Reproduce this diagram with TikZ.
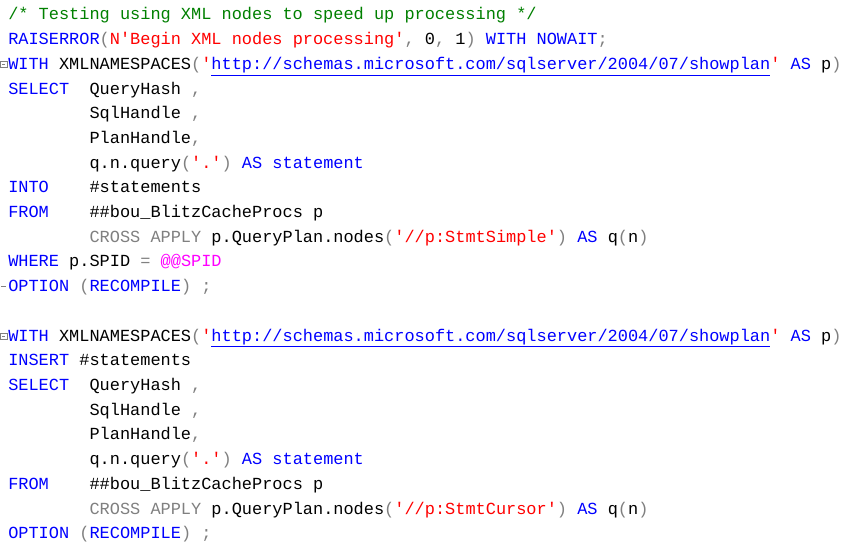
\documentclass[tikz,border=0pt]{standalone}
\usepackage{fontspec}
\newfontfamily\code{Liberation Mono}
\definecolor{kw}{RGB}{0,0,255}
\definecolor{st}{RGB}{255,0,0}
\definecolor{cm}{RGB}{0,128,0}
\definecolor{gy}{RGB}{128,128,128}
\definecolor{mg}{RGB}{255,0,255}
\newcommand\K[1]{\textcolor{kw}{#1}}
\newcommand\R[1]{\textcolor{st}{#1}}
\newcommand\G[1]{\textcolor{gy}{#1}}
\newcommand\U[1]{\textcolor{kw}{\underline{#1}}}
\begin{document}
\begin{tikzpicture}[x=0.75pt,y=-0.75pt,
  ln/.style={anchor=base west,inner sep=0pt,font=\code\fontsize{12.7pt}{14pt}\selectfont},
  fold/.style={draw=gy,line width=0.4pt,minimum size=5pt,inner sep=0pt}]
\useasboundingbox (0,0) rectangle (867,545);
\fill[white] (0,0) rectangle (867,545);
\def\L#1#2{\node[ln] (l#1) at (8,{20+24.7*(#1-1)}) {#2};}
\L{1}{\textcolor{cm}{/*~Testing~using~XML~nodes~to~speed~up~processing~*/}}
\L{2}{\K{RAISERROR}\G{(}\R{N'Begin~XML~nodes~processing'}\G{,}~0\G{,}~1\G{)}~\K{WITH~NOWAIT}\G{;}}
\L{3}{\K{WITH}~XMLNAMESPACES\G{(}\R{'}\U{http://schemas.microsoft.com/sqlserver/2004/07/showplan}\R{'}~\K{AS}~p\G{)}}
\L{4}{\K{SELECT}~~QueryHash~\G{,}}
\L{5}{~~~~~~~~SqlHandle~\G{,}}
\L{6}{~~~~~~~~PlanHandle\G{,}}
\L{7}{~~~~~~~~q.n.query\G{(}\R{'.'}\G{)}~\K{AS~statement}}
\L{8}{\K{INTO}~~~~\#statements}
\L{9}{\K{FROM}~~~~\#\#bou\_BlitzCacheProcs~p}
\L{10}{~~~~~~~~\G{CROSS~APPLY}~p.QueryPlan.nodes\G{(}\R{'//p:StmtSimple'}\G{)}~\K{AS}~q\G{(}n\G{)}}
\L{11}{\K{WHERE}~p.SPID~\G{=}~\textcolor{mg}{@@SPID}}
\L{12}{\K{OPTION}~\G{(}\K{RECOMPILE}\G{)}~\G{;}}
\L{14}{\K{WITH}~XMLNAMESPACES\G{(}\R{'}\U{http://schemas.microsoft.com/sqlserver/2004/07/showplan}\R{'}~\K{AS}~p\G{)}}
\L{15}{\K{INSERT}~\#statements}
\L{16}{\K{SELECT}~~QueryHash~\G{,}}
\L{17}{~~~~~~~~SqlHandle~\G{,}}
\L{18}{~~~~~~~~PlanHandle\G{,}}
\L{19}{~~~~~~~~q.n.query\G{(}\R{'.'}\G{)}~\K{AS~statement}}
\L{20}{\K{FROM}~~~~\#\#bou\_BlitzCacheProcs~p}
\L{21}{~~~~~~~~\G{CROSS~APPLY}~p.QueryPlan.nodes\G{(}\R{'//p:StmtCursor'}\G{)}~\K{AS}~q\G{(}n\G{)}}
\L{22}{\K{OPTION}~\G{(}\K{RECOMPILE}\G{)}~\G{;}}
\foreach \i in {3,14}{
  \node[fold] (f\i) at (3.5,{15+24.7*(\i-1)}) {};
  \draw[gy,line width=0.4pt] ([xshift=1pt]f\i.center) -- ([xshift=-1pt]f\i.center);
}
\draw[gy,line width=0.4pt] (1,286) -- (6,286);
\end{tikzpicture}
\end{document}
